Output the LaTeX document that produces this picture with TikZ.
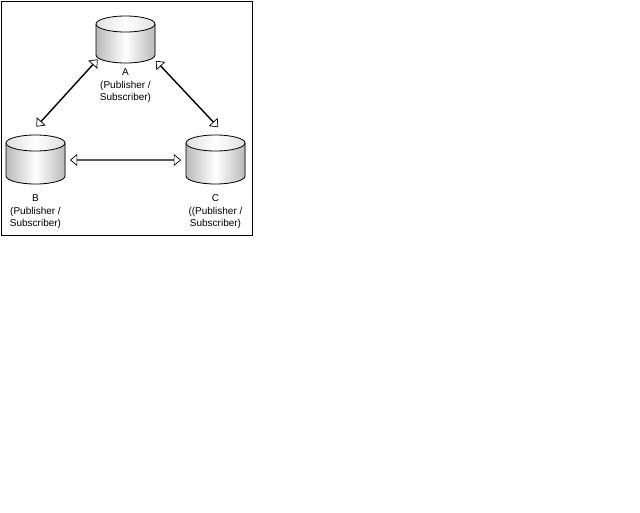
\documentclass[tikz,border=0pt]{standalone}
\usepackage{fontspec}
\setmainfont{Liberation Sans}
\usetikzlibrary{shapes.arrows}
\newcommand\dbcyl[4]{% name, cx, top y, bottom y
  \fill[left color=gray!55,right color=gray!55,middle color=white]
    ([xshift=-29.5pt]#2,#3) -- ([xshift=-29.5pt]#2,#4)
    arc[start angle=180,end angle=360,x radius=29.5pt,y radius=8pt] -- ([xshift=29.5pt]#2,#3) -- cycle;
  \draw[line width=0.8pt] ([xshift=-29.5pt]#2,#3) -- ([xshift=-29.5pt]#2,#4)
    arc[start angle=180,end angle=360,x radius=29.5pt,y radius=8pt] -- ([xshift=29.5pt]#2,#3);
  \node[draw,line width=0.8pt,ellipse,minimum width=59pt,minimum height=16pt,inner sep=0pt,
    left color=gray!25,right color=gray!25,middle color=white] (#1) at (#2,#3) {};
}
\usetikzlibrary{shapes.geometric}
\tikzset{
  lbl/.style={align=center,font=\fontsize{10}{12.5}\selectfont,inner sep=0pt},
  dbl/.style={draw,line width=0.7pt,fill=white,double arrow,double arrow head extend=5pt,
    double arrow tip angle=80,minimum height=#1,minimum width=7pt,inner sep=0pt}
}
\begin{document}
\begin{tikzpicture}[x=1pt,y=1pt]
\useasboundingbox (0,0) rectangle (640,-512);
\draw[line width=0.8pt] (1,-1) rectangle (252,-235);
\dbcyl{A}{125.5}{-24}{-55}
\dbcyl{B}{35.5}{-143}{-176}
\dbcyl{C}{215.5}{-143}{-176}
\node[lbl] (la) at (125.5,-86) {A\\(Publisher /\\Subscriber)};
\node[lbl] (lb) at (35.5,-212) {B\\(Publisher /\\Subscriber)};
\node[lbl] (lc) at (215.5,-212) {C\\((Publisher /\\Subscriber)};
\node[dbl=90pt,rotate=47.7] (ab) at (67,-93) {};
\node[dbl=90pt,rotate=-46.8] (ac) at (187,-94) {};
\node[dbl=110pt] (bc) at (125.5,-160) {};
\end{tikzpicture}
\end{document}
